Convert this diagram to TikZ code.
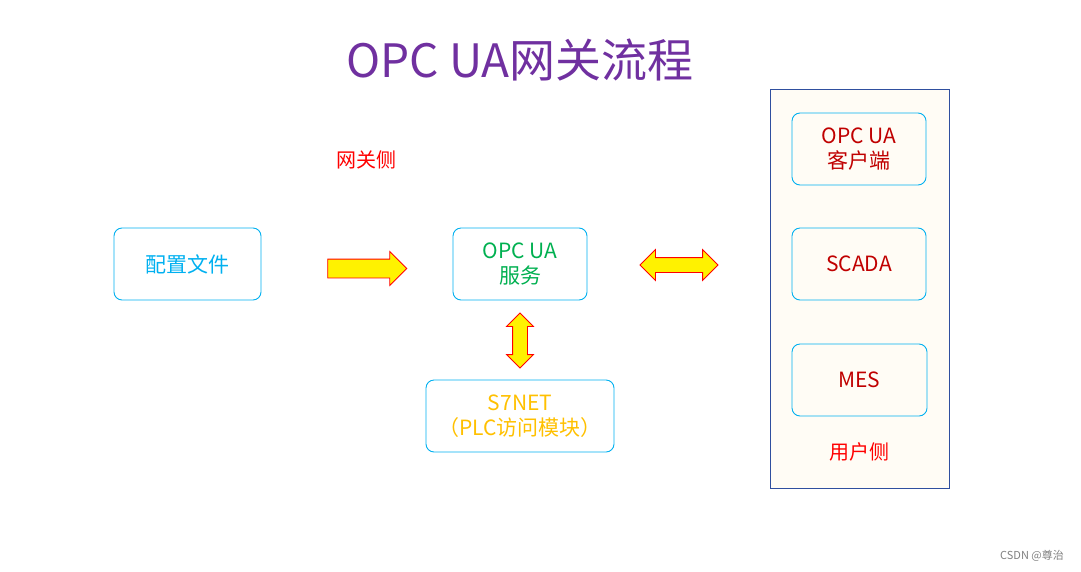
\documentclass[tikz,border=0pt]{standalone}
\usepackage{fontspec}
\setmainfont{Noto Sans CJK SC}
\usetikzlibrary{shapes.arrows}
\definecolor{titlepurple}{HTML}{7030A0}
\definecolor{boxcyan}{HTML}{00B0F0}
\definecolor{txtgreen}{HTML}{00B050}
\definecolor{txtyellow}{HTML}{FFC000}
\definecolor{txtred}{HTML}{C00000}
\definecolor{panelfill}{HTML}{FFFCF5}
\definecolor{panelline}{HTML}{2F4F9F}
\tikzset{
  box/.style={draw=boxcyan, line width=0.9pt, rounded corners=8pt, align=center, inner sep=0pt,
    font=\fontsize{21}{25}\selectfont},
  fatarrow/.style={draw=red, fill=yellow, line width=0.8pt, inner xsep=0pt}
}
\begin{document}
\begin{tikzpicture}[x=1pt,y=-1pt]
  \useasboundingbox (0,0) rectangle (1081,571);
  % title and side labels
  \node[text=titlepurple, font=\fontsize{46}{50}\selectfont] (title) at (520,60) {OPC UA网关流程};
  \node[text=red, font=\fontsize{20}{22}\selectfont] (gwside) at (366,160) {网关侧};
  % user panel
  \draw[panelline, fill=panelfill, line width=0.8pt] (770,89) rectangle (949,488);
  \node[text=red, font=\fontsize{20}{22}\selectfont] (userside) at (859,452) {用户侧};
  % gateway boxes
  \node[box, minimum width=147pt, minimum height=72pt, text=boxcyan] (config) at (187.5,264) {配置文件};
  \node[box, minimum width=134pt, minimum height=72pt, text=txtgreen] (server) at (520,264) {OPC UA\\服务};
  \node[box, minimum width=188pt, minimum height=72pt, text=txtyellow] (s7net) at (520,416) {S7NET\\（PLC访问模块）};
  % user boxes
  \node[box, minimum width=134pt, minimum height=72pt, text=txtred] (client) at (859,149) {OPC UA\\客户端};
  \node[box, minimum width=134pt, minimum height=72pt, text=txtred] (scada) at (859,264) {SCADA};
  \node[box, minimum width=135pt, minimum height=72pt, text=txtred] (mes) at (859.5,380) {MES};
  % arrows
  \node[fatarrow, single arrow, inner ysep=9pt, single arrow head extend=7.5pt, minimum height=79pt] (arr1) at (362.5,268.5) {};
  \node[fatarrow, double arrow, inner ysep=7pt, double arrow head extend=8pt, minimum height=78pt] (arr2) at (679,265) {};
  \node[fatarrow, double arrow, inner ysep=7pt, double arrow head extend=6pt, minimum height=55pt, rotate=90] (arr3) at (520,340.5) {};
  % watermark
  \node[text=gray, font=\fontsize{11}{13}\selectfont] (mark) at (1032,556) {CSDN @尊治};
\end{tikzpicture}
\end{document}
